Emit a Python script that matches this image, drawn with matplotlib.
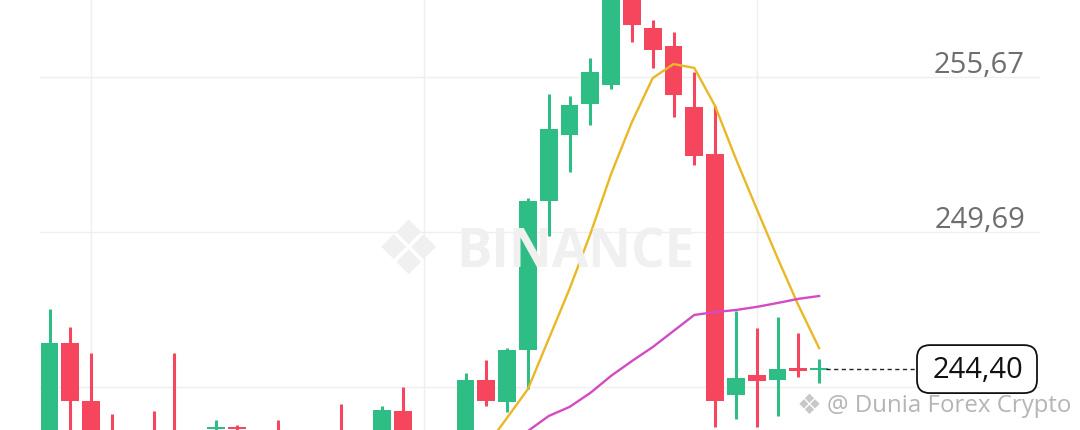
import numpy as np
import matplotlib
matplotlib.use('Agg')
import matplotlib.pyplot as plt
from matplotlib.patches import FancyBboxPatch

# candle data (price), one entry per candle
opens = [241.6, 245.41, 243.17, 241.95, 241.7, 241.9, 241.8, 241.5, 242.09, 242.13,
         241.9, 241.9, 241.7, 241.8, 241.9, 241.7, 241.8, 242.78, 241.9, 241.7,
         241.9, 243.98, 243.13, 245.14, 250.89, 253.43, 254.63, 255.36, 259.2, 257.56,
         256.87, 254.51, 252.70, 243.40, 244.17, 243.98, 244.44, 244.36]
highs = [246.72, 246.02, 245.02, 242.67, 241.95, 242.78, 245.02, 241.9, 242.44, 242.24,
         242.0, 242.44, 241.95, 242.0, 243.06, 241.95, 242.98, 243.71, 242.0, 241.95,
         244.25, 244.75, 245.21, 251.00, 255.01, 254.94, 256.40, 259.5, 259.6, 257.87,
         257.41, 255.86, 254.55, 246.64, 245.99, 246.41, 245.79, 244.79]
lows = [241.2, 241.5, 241.3, 241.3, 241.2, 241.2, 241.3, 241.1, 241.9, 241.8,
        241.4, 241.4, 241.3, 241.4, 241.4, 241.3, 241.6, 241.7, 241.5, 241.4,
        241.7, 242.98, 242.74, 243.63, 249.54, 252.00, 253.82, 255.2, 257.02, 256.02,
        254.13, 252.27, 242.17, 242.48, 242.17, 242.59, 244.10, 243.86]
closes = [245.41, 243.17, 241.8, 241.7, 241.5, 241.6, 241.5, 241.7, 242.13, 242.08,
          241.6, 241.7, 241.8, 241.6, 241.7, 241.8, 242.82, 241.9, 241.7, 241.9,
          243.98, 243.17, 245.14, 250.89, 253.66, 254.59, 255.86, 259.2, 257.68, 256.71,
          254.97, 252.62, 243.17, 244.06, 243.94, 244.40, 244.33, 244.40]

# moving averages (start index, values)
ma7_start = 20
ma7 = [240.55, 241.43, 242.52, 243.63, 245.56, 247.49, 249.61, 251.93, 253.93,
       255.63, 256.17, 256.02, 254.55, 252.51, 250.58, 248.69, 246.87, 245.21]
ma25_start = 22
ma25 = [241.4, 242.01, 242.59, 242.94, 243.48, 244.14, 244.71, 245.25, 245.87,
        246.49, 246.60, 246.68, 246.80, 246.95, 247.11, 247.22]

grid_prices = [255.67, 249.69, 243.71]
grid_labels = ['255,67', '249,69']
vgrid_idx = [2, 18, 34]
last_price = 244.40
last_label = '244,40'

GREEN = '#2EBD85'
RED = '#F6465D'

W, H = 1080, 431
fig = plt.figure(figsize=(W / 100, H / 100), dpi=100)
ax = fig.add_axes([0, 0, 1, 1])
ax.set_xlim(-49.5 / 20.8, (W - 49.5) / 20.8)
ax.set_ylim(242.05, 258.68)
ax.axis('off')

for p in grid_prices:
    ax.axhline(p, xmin=40 / W, xmax=1039 / W, color='#EFEFEF', lw=1, zorder=0)
for i in vgrid_idx:
    ax.axvline(i, color='#EFEFEF', lw=1, zorder=0)

# watermarks
fig.text(408 / W, 1 - 253 / H, '\u2756', fontsize=54, color='#F0F0F0', ha='center', va='center',
         family='DejaVu Sans', zorder=1)
fig.text(456 / W, 1 - 253 / H, 'BINANCE', fontsize=38, fontweight='bold', color='#F0F0F0',
         ha='left', va='center', family='Open Sans', zorder=1)

x = np.arange(len(opens))
o = np.array(opens)
c = np.array(closes)
colors = [GREEN if cc >= oo else RED for oo, cc in zip(o, c)]
ax.vlines(x, lows, highs, colors=colors, lw=2.2, zorder=2)
bottoms = np.minimum(o, c)
heights = np.maximum(np.abs(c - o), 0.08)
ax.bar(x, heights, bottom=bottoms, width=0.85, color=colors, zorder=3)

ax.plot(np.arange(ma7_start, ma7_start + len(ma7)), ma7, color='#EBB725', lw=1.7, zorder=4)
ax.plot(np.arange(ma25_start, ma25_start + len(ma25)), ma25, color='#D24BC4', lw=1.7, zorder=4)

for p, lab in zip(grid_prices, grid_labels):
    ax.text(1025 / W, p + 0.2, lab, transform=ax.get_yaxis_transform(), ha='right',
            va='baseline', fontsize=21, color='#6E6E6E', family='Open Sans')

# last price line + box
ax.plot([len(opens) - 1 + 0.35, (917 - 49.5) / 20.8], [last_price, last_price],
        color='#222222', lw=1, ls=(0, (3, 2.5)), zorder=4)
box = FancyBboxPatch((917 / W, 0), 120 / W, 48 / H, boxstyle='round,pad=0,rounding_size=0.012',
                     transform=ax.transAxes, facecolor='white', edgecolor='#111111', lw=1.3,
                     zorder=5, mutation_aspect=W / H)
ax.add_patch(box)
box.set_y(ax.transAxes.inverted().transform(ax.transData.transform((0, last_price)))[1] - 24 / H)
ax.text(978 / W, last_price, last_label, transform=ax.get_yaxis_transform(), ha='center',
        va='center', fontsize=21, color='#111111', family='Open Sans', zorder=6)

fig.text(809 / W, 1 - 406 / H, '\u2756', fontsize=20, color='#C8C8C8', ha='center',
         va='center', family='DejaVu Sans')
fig.text(827 / W, 1 - 406 / H, '@ Dunia Forex Crypto', fontsize=17.3, color='#B5B5B5',
         ha='left', va='center', family='Open Sans')

fig.savefig('out.png', dpi=100, facecolor='white')
